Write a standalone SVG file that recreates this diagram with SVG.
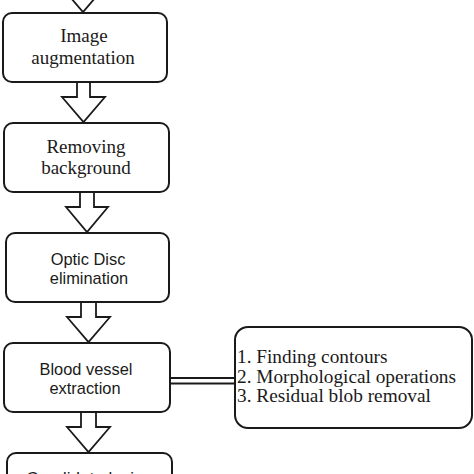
<svg xmlns="http://www.w3.org/2000/svg" width="474" height="474" viewBox="0 0 474 474">
<style>
.box{fill:#fff;stroke:#1a1a1a;stroke-width:2}
.arr{fill:#fff;stroke:#1a1a1a;stroke-width:1.8;stroke-linejoin:miter}
.serif{font-family:"Liberation Serif","Times New Roman",serif;font-size:19px;fill:#1a1a1a}
.sans{font-family:"Liberation Sans",Arial,sans-serif;font-size:16.4px;fill:#1a1a1a}
.link{stroke:#1a1a1a;stroke-width:1.8;fill:none}
</style>
<rect width="474" height="474" fill="#fff"/>
<g id="connectors">
<polygon class="arr" points="76.5,-40 89.5,-40 89.5,-13 104.5,-13 83,12 61.5,-13 76.5,-13"/>
<polygon class="arr" points="77,82 90,82 90,97 105,97 83.5,122 62,97 77,97"/>
<polygon class="arr" points="80,192 94,192 94,207 108,207 87,232 66,207 80,207"/>
<polygon class="arr" points="81,302 96,302 96,317 110,317 88.5,342 67,317 81,317"/>
<polygon class="arr" points="81,412 96,412 96,427 110,427 88.5,452 67,427 81,427"/>
<line class="link" x1="166" y1="378" x2="235" y2="378"/>
<line class="link" x1="166" y1="383.5" x2="235" y2="383.5"/>
</g>
<g id="n1">
<rect class="box" x="3" y="13" width="164" height="69" rx="9"/>
<text class="serif" x="84" y="42" text-anchor="middle">Image</text>
<text class="serif" x="83" y="64" text-anchor="middle">augmentation</text>
</g>
<g id="n2">
<rect class="box" x="4" y="123" width="165" height="69" rx="9"/>
<text class="serif" x="86" y="152.5" text-anchor="middle">Removing</text>
<text class="serif" x="86" y="174" text-anchor="middle">background</text>
</g>
<g id="n3">
<rect class="box" x="6" y="233" width="163" height="69" rx="9"/>
<text class="sans" x="88" y="264.5" text-anchor="middle">Optic Disc</text>
<text class="sans" x="89" y="283.5" text-anchor="middle">elimination</text>
</g>
<g id="n4">
<rect class="box" x="4" y="343" width="166" height="69" rx="9"/>
<text class="sans" x="86" y="374.5" text-anchor="middle">Blood vessel</text>
<text class="sans" x="85" y="393.5" text-anchor="middle">extraction</text>
</g>
<g id="n5">
<rect class="box" x="7" y="453" width="165" height="69" rx="9"/>
<text class="sans" x="89.5" y="484" text-anchor="middle" style="font-size:17px">Candidate lesion</text>
</g>
<g id="n6">
<rect class="box" x="235" y="327" width="237" height="101" rx="13"/>
<text class="serif" x="237" y="363" style="font-size:19.3px">1. Finding contours</text>
<text class="serif" x="237" y="383" style="font-size:19.3px">2. Morphological operations</text>
<text class="serif" x="237" y="402" style="font-size:19.3px">3. Residual blob removal</text>
</g>
</svg>
